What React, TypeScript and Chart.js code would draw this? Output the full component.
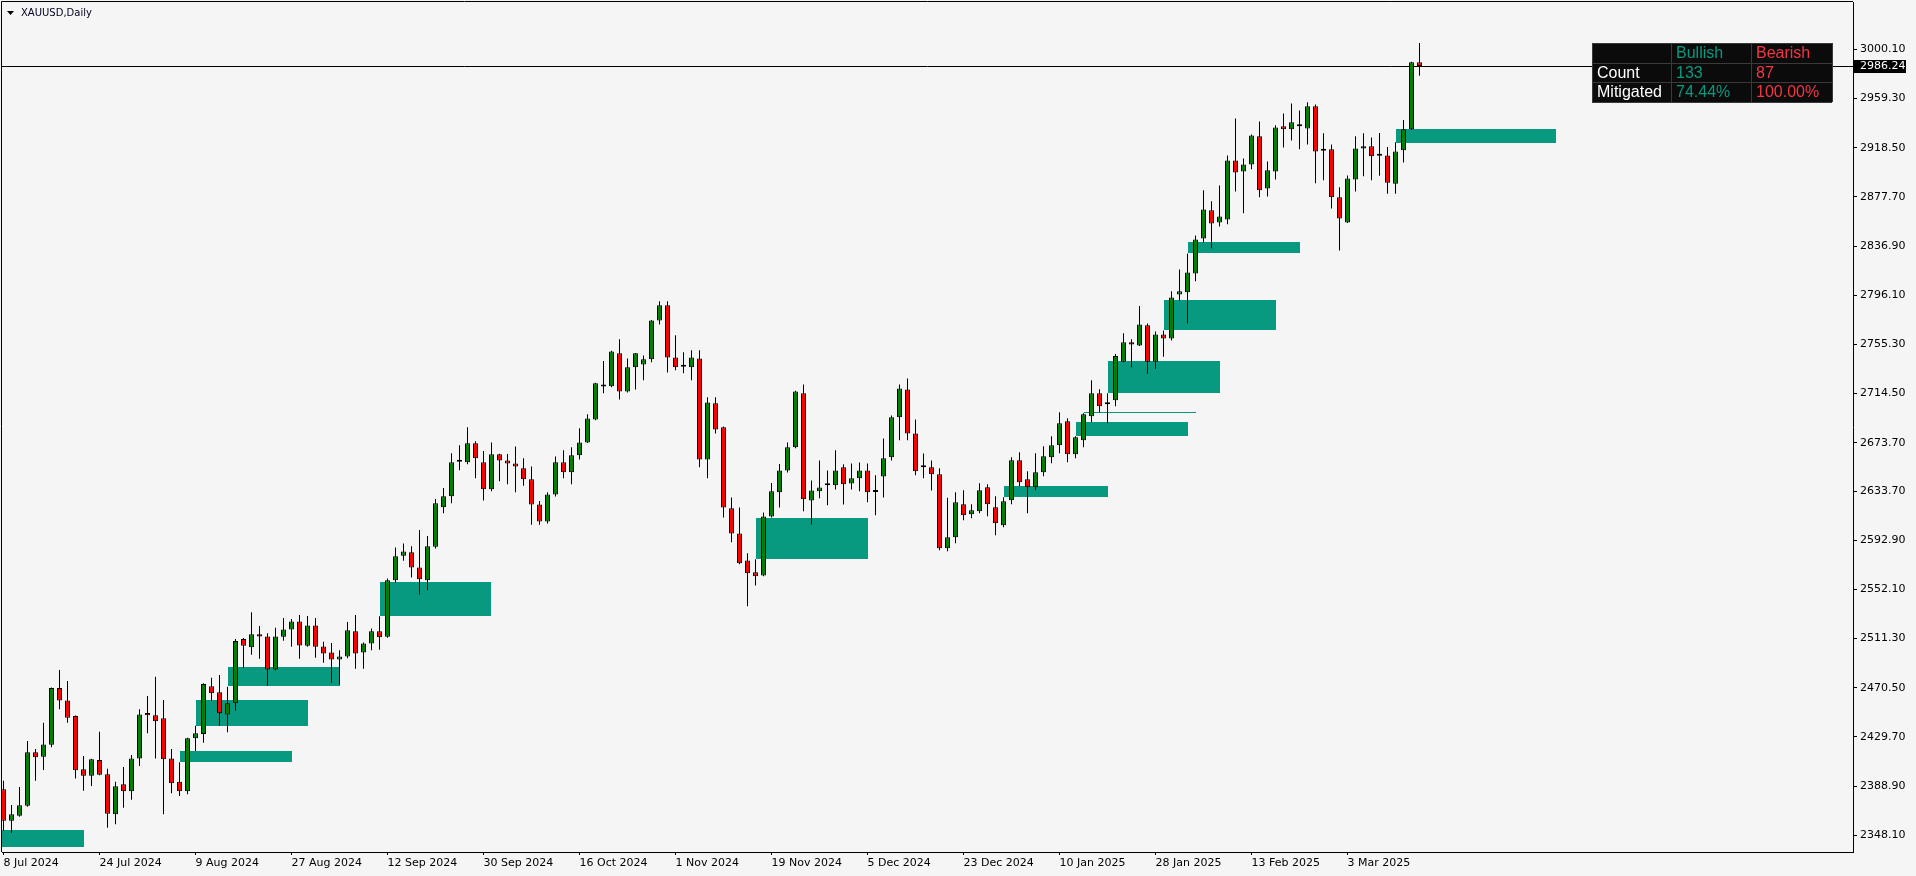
import React, { useEffect, useRef } from 'react';
import { Chart, registerables } from 'chart.js';

Chart.register(...registerables);

// ---- Data (XAUUSD daily, 8 Jul 2024 .. 14 Mar 2025; index = bar number) ----
const opens = [
  2386.2, 2360.2, 2364.4, 2372.7, 2416.9, 2413.3, 2423.3, 2470.3, 2460.0, 2447.0,
  2402.8, 2397.5, 2410.5, 2398.7, 2365.5, 2390.4, 2384.6, 2411.9, 2449.5, 2447.6,
  2445.1, 2411.9, 2392.6, 2384.6, 2428.5, 2432.1, 2471.7, 2466.7, 2448.4, 2457.6,
  2510.9, 2504.0, 2514.8, 2513.1, 2485.7, 2512.8, 2518.9, 2525.5, 2505.4, 2522.2,
  2504.8, 2499.8, 2494.0, 2496.5, 2517.3, 2499.8, 2507.3, 2517.3, 2512.8, 2559.6,
  2580.0, 2582.8, 2570.3, 2559.6, 2587.5, 2620.2, 2629.3, 2658.0, 2657.5, 2673.3,
  2657.5, 2635.1, 2664.1, 2659.1, 2656.6, 2652.5, 2643.4, 2622.6, 2608.5, 2630.9,
  2657.5, 2649.2, 2663.3, 2674.0, 2693.1, 2720.3, 2720.5, 2747.9, 2716.3, 2736.3,
  2738.7, 2742.9, 2775.2, 2787.7, 2744.5, 2736.8, 2736.3, 2743.7, 2659.9, 2706.4,
  2686.5, 2619.3, 2598.5, 2576.1, 2566.2, 2563.7, 2612.6, 2632.6, 2650.8, 2669.9,
  2714.7, 2625.9, 2633.4, 2638.4, 2638.4, 2653.3, 2640.0, 2644.2, 2650.8, 2632.9,
  2645.8, 2661.6, 2694.8, 2718.0, 2681.5, 2653.3, 2653.3, 2647.6, 2586.2, 2595.3,
  2622.7, 2614.4, 2616.9, 2636.8, 2620.2, 2605.3, 2626.0, 2659.2, 2643.4, 2636.8,
  2649.2, 2661.7, 2671.6, 2691.5, 2664.2, 2675.8, 2695.7, 2714.8, 2705.6, 2708.9,
  2741.0, 2757.0, 2754.5, 2771.1, 2741.0, 2763.6, 2760.3, 2796.8, 2798.5, 2814.2,
  2843.2, 2866.5, 2856.5, 2859.0, 2907.9, 2898.8, 2904.6, 2927.9, 2884.7, 2898.8,
  2936.2, 2933.7, 2937.8, 2934.5, 2952.8, 2916.0, 2917.1, 2877.3, 2856.5, 2892.2,
  2917.9, 2919.6, 2911.9, 2912.1, 2888.6, 2916.3, 2933.7, 2989.3,
];
const highs = [
  2393.4, 2373.2, 2388.2, 2426.3, 2419.7, 2441.5, 2470.8, 2485.2, 2476.1, 2447.5,
  2413.9, 2411.6, 2434.0, 2403.4, 2392.6, 2404.7, 2414.7, 2452.6, 2463.6, 2479.7,
  2460.3, 2419.7, 2408.6, 2429.0, 2439.0, 2474.2, 2478.8, 2481.1, 2471.4, 2510.9,
  2511.8, 2533.2, 2521.7, 2515.6, 2520.3, 2528.3, 2527.5, 2530.8, 2530.0, 2528.3,
  2508.7, 2507.6, 2501.5, 2525.0, 2530.8, 2508.0, 2519.7, 2529.7, 2561.2, 2586.9,
  2590.2, 2587.8, 2601.3, 2596.3, 2627.1, 2636.2, 2665.0, 2671.6, 2686.5, 2674.9,
  2666.9, 2674.0, 2664.5, 2664.4, 2670.7, 2660.8, 2654.1, 2625.4, 2632.6, 2662.4,
  2667.4, 2669.9, 2685.7, 2697.3, 2723.5, 2741.5, 2750.0, 2759.5, 2743.7, 2748.2,
  2746.2, 2775.6, 2791.0, 2791.0, 2762.8, 2748.7, 2750.4, 2750.4, 2711.4, 2711.4,
  2687.3, 2628.4, 2620.1, 2582.0, 2577.0, 2615.9, 2640.3, 2656.1, 2674.0, 2716.8,
  2722.1, 2642.5, 2659.1, 2650.8, 2667.4, 2655.8, 2656.6, 2657.4, 2656.6, 2646.7,
  2677.3, 2696.4, 2722.1, 2727.1, 2693.1, 2664.9, 2659.1, 2652.5, 2628.2, 2632.6,
  2634.3, 2622.7, 2640.1, 2639.3, 2629.3, 2628.5, 2661.7, 2665.8, 2650.1, 2665.0,
  2670.8, 2679.1, 2699.0, 2694.0, 2679.1, 2698.2, 2725.5, 2718.1, 2714.8, 2747.3,
  2764.5, 2759.5, 2787.1, 2772.7, 2766.1, 2766.9, 2799.3, 2817.5, 2830.8, 2845.7,
  2883.1, 2874.0, 2887.2, 2912.1, 2942.8, 2909.6, 2929.5, 2940.3, 2907.1, 2937.0,
  2946.9, 2955.2, 2949.4, 2956.1, 2954.4, 2930.4, 2921.2, 2885.6, 2895.5, 2927.9,
  2930.4, 2927.0, 2930.7, 2919.0, 2922.9, 2941.4, 2989.8, 3005.3,
];
const lows = [
  2351.9, 2350.3, 2363.5, 2371.8, 2393.4, 2402.3, 2421.1, 2452.6, 2441.5, 2395.3,
  2385.1, 2389.0, 2397.9, 2354.4, 2357.2, 2371.0, 2377.6, 2405.6, 2432.7, 2411.7,
  2365.5, 2382.9, 2380.7, 2382.1, 2418.0, 2424.9, 2459.8, 2439.0, 2433.5, 2451.5,
  2486.9, 2497.9, 2494.6, 2472.2, 2485.0, 2509.5, 2504.5, 2494.6, 2504.5, 2495.4,
  2491.3, 2474.7, 2473.0, 2494.9, 2486.3, 2486.3, 2501.5, 2502.0, 2512.0, 2557.9,
  2575.9, 2562.0, 2547.9, 2551.3, 2585.9, 2615.2, 2623.5, 2650.9, 2655.8, 2644.2,
  2625.9, 2633.4, 2641.7, 2639.2, 2632.6, 2638.1, 2605.7, 2605.7, 2606.8, 2629.2,
  2644.2, 2639.2, 2659.9, 2673.5, 2692.3, 2714.7, 2719.7, 2709.7, 2715.5, 2718.0,
  2725.5, 2740.4, 2771.9, 2732.1, 2733.8, 2731.3, 2725.5, 2653.3, 2644.2, 2681.5,
  2611.8, 2591.1, 2573.0, 2538.0, 2555.4, 2562.9, 2611.8, 2620.1, 2649.1, 2669.1,
  2616.8, 2606.0, 2627.6, 2621.8, 2635.0, 2622.6, 2635.0, 2633.4, 2624.3, 2613.5,
  2628.4, 2659.1, 2675.7, 2675.7, 2646.7, 2644.2, 2634.2, 2584.5, 2583.7, 2590.3,
  2609.4, 2611.1, 2615.2, 2612.7, 2597.0, 2603.6, 2622.7, 2637.6, 2615.2, 2634.3,
  2645.9, 2656.7, 2665.0, 2657.5, 2660.8, 2670.0, 2690.7, 2699.0, 2689.9, 2704.0,
  2740.5, 2736.3, 2754.0, 2731.0, 2735.1, 2745.1, 2758.6, 2791.8, 2772.7, 2807.6,
  2839.9, 2835.0, 2853.2, 2854.9, 2882.2, 2864.0, 2900.5, 2877.3, 2878.1, 2892.2,
  2918.7, 2924.5, 2917.1, 2921.2, 2888.9, 2891.4, 2868.1, 2833.3, 2856.0, 2882.2,
  2894.7, 2891.4, 2895.3, 2880.3, 2880.3, 2906.1, 2933.2, 2978.2,
];
const closes = [
  2360.2, 2365.5, 2373.0, 2416.9, 2412.8, 2423.5, 2470.3, 2460.0, 2445.7, 2402.0,
  2397.5, 2411.1, 2398.4, 2366.0, 2388.7, 2384.6, 2411.9, 2448.4, 2447.6, 2442.6,
  2411.1, 2391.2, 2384.6, 2428.5, 2432.7, 2473.6, 2465.9, 2449.3, 2457.6, 2509.3,
  2505.4, 2514.8, 2513.1, 2485.7, 2513.1, 2518.9, 2525.5, 2505.6, 2522.2, 2504.5,
  2499.0, 2494.0, 2496.5, 2518.1, 2499.0, 2507.3, 2517.3, 2512.3, 2559.6, 2579.5,
  2583.6, 2570.3, 2560.4, 2587.8, 2623.5, 2629.3, 2657.5, 2658.0, 2673.3, 2660.8,
  2635.1, 2664.1, 2659.1, 2656.6, 2654.1, 2643.4, 2622.6, 2608.5, 2630.9, 2657.5,
  2649.2, 2663.3, 2674.0, 2693.9, 2723.0, 2720.3, 2749.5, 2716.3, 2736.3, 2747.9,
  2742.9, 2775.2, 2787.7, 2744.5, 2736.3, 2736.8, 2744.5, 2659.9, 2707.2, 2684.8,
  2620.1, 2598.5, 2573.7, 2565.4, 2562.9, 2612.6, 2633.4, 2650.8, 2669.9, 2716.3,
  2626.8, 2634.2, 2636.7, 2638.4, 2650.8, 2639.2, 2644.2, 2650.8, 2632.6, 2632.9,
  2660.8, 2694.8, 2718.8, 2681.5, 2650.0, 2653.3, 2647.5, 2586.2, 2595.3, 2624.3,
  2613.6, 2617.7, 2634.3, 2622.7, 2606.9, 2625.2, 2659.2, 2640.9, 2636.8, 2649.2,
  2662.5, 2671.6, 2689.9, 2664.2, 2678.3, 2697.3, 2714.8, 2704.0, 2707.3, 2745.7,
  2757.0, 2755.3, 2771.9, 2741.0, 2763.6, 2760.3, 2794.3, 2799.3, 2815.0, 2842.4,
  2867.3, 2855.7, 2861.5, 2907.9, 2898.0, 2904.6, 2928.7, 2883.1, 2899.7, 2935.3,
  2933.7, 2939.5, 2936.2, 2952.8, 2915.4, 2916.0, 2877.3, 2859.8, 2893.0, 2917.9,
  2919.6, 2911.3, 2911.9, 2889.5, 2915.4, 2933.7, 2989.3, 2986.24,
];

// x-axis labels (bar index of each label)
const xTickIndex = [0, 12, 24, 36, 48, 60, 72, 84, 96, 108, 120, 132, 144, 156, 168];
const xTickLabels = [
  '8 Jul 2024', '24 Jul 2024', '9 Aug 2024', '27 Aug 2024', '12 Sep 2024',
  '30 Sep 2024', '16 Oct 2024', '1 Nov 2024', '19 Nov 2024', '5 Dec 2024',
  '23 Dec 2024', '10 Jan 2025', '28 Jan 2025', '13 Feb 2025', '3 Mar 2025',
];
// price-axis labels
const yTickValues = [
  3000.10, 2959.30, 2918.50, 2877.70, 2836.90, 2796.10, 2755.30, 2714.50,
  2673.70, 2633.70, 2592.90, 2552.10, 2511.30, 2470.50, 2429.70, 2388.90, 2348.10,
];

// order-block zones (bar index span, price range)
const obStart = [-4, 22, 24, 28, 47, 94, 125, 134, 138, 145, 148, 174];
const obEnd = [10, 36, 38, 42, 61, 108, 138, 148, 152, 159, 162, 194];
const obTop = [2352.5, 2418.0, 2460.3, 2487.7, 2558.2, 2611.3, 2637.8, 2690.9, 2741.5, 2792.1, 2840.3, 2934.0];
const obBottom = [2338.6, 2409.1, 2439.0, 2472.2, 2530.3, 2577.5, 2629.0, 2679.6, 2715.2, 2767.5, 2831.4, 2922.6];
// thin level line
const levelStart = [135];
const levelEnd = [149];
const levelPrice = [2699.0];

const currentPrice = 2986.24;
const chartTitle = 'XAUUSD,Daily';

// statistics table
const tableHeader = ['', 'Bullish', 'Bearish'];
const tableCount = ['Count', '133', '87'];
const tableMitigated = ['Mitigated', '74.44%', '100.00%'];

// ---- styling ----
const BG = '#f5f5f5';
const UP = '#008000';
const DOWN = '#ff0000';
const OB = '#089981';
const TV_RED = '#f23645';
const AXIS_FONT = 'DejaVu Sans';

const X_MIN = -0.1875;
const X_MAX = 231.1875;
const Y_MIN = 2334.24;
const Y_MAX = 3039.34;

export default function App() {
  const ref = useRef<HTMLCanvasElement | null>(null);

  useEffect(() => {
    const canvas = ref.current;
    if (!canvas) return;
    const idx = opens.map((_, i) => i);
    const bodyColors = idx.map((i) =>
      closes[i] > opens[i] ? UP : closes[i] < opens[i] ? DOWN : '#000000'
    );

    const bgPlugin = {
      id: 'bg',
      beforeDraw(chart: any) {
        const { ctx, width, height } = chart;
        ctx.save();
        ctx.fillStyle = BG;
        ctx.fillRect(0, 0, width, height);
        ctx.restore();
      },
    };

    const zonesPlugin = {
      id: 'zones',
      beforeDatasetsDraw(chart: any) {
        const { ctx, chartArea, scales } = chart;
        const xs = scales.x;
        const ys = scales.y;
        ctx.save();
        ctx.beginPath();
        ctx.rect(chartArea.left, chartArea.top, chartArea.right - chartArea.left, chartArea.bottom - chartArea.top);
        ctx.clip();
        ctx.fillStyle = OB;
        for (let k = 0; k < obStart.length; k++) {
          const x1 = Math.round(xs.getPixelForValue(obStart[k]));
          const x2 = Math.round(xs.getPixelForValue(obEnd[k]));
          const y1 = Math.round(ys.getPixelForValue(obTop[k]));
          const y2 = Math.round(ys.getPixelForValue(obBottom[k]));
          ctx.fillRect(x1, y1, x2 - x1, y2 - y1);
        }
        ctx.strokeStyle = OB;
        ctx.lineWidth = 1;
        for (let k = 0; k < levelStart.length; k++) {
          const x1 = Math.round(xs.getPixelForValue(levelStart[k]));
          const x2 = Math.round(xs.getPixelForValue(levelEnd[k]));
          const y = Math.round(ys.getPixelForValue(levelPrice[k])) + 0.5;
          ctx.beginPath();
          ctx.moveTo(x1, y);
          ctx.lineTo(x2, y);
          ctx.stroke();
        }
        // current price line
        const py = Math.round(ys.getPixelForValue(currentPrice)) + 0.5;
        ctx.strokeStyle = '#000';
        ctx.beginPath();
        ctx.moveTo(chartArea.left, py);
        ctx.lineTo(chartArea.right, py);
        ctx.stroke();
        ctx.restore();
      },
    };

    const overlayPlugin = {
      id: 'overlay',
      afterDraw(chart: any) {
        const { ctx, chartArea, scales } = chart;
        const ys = scales.y;
        ctx.save();
        // frame (left + top)
        ctx.strokeStyle = '#000';
        ctx.lineWidth = 1;
        ctx.beginPath();
        ctx.moveTo(chartArea.left - 0.5, chartArea.bottom);
        ctx.lineTo(chartArea.left - 0.5, chartArea.top - 0.5);
        ctx.lineTo(chartArea.right, chartArea.top - 0.5);
        ctx.stroke();

        // current price tag on the axis
        const py = Math.round(ys.getPixelForValue(currentPrice));
        ctx.fillStyle = '#000';
        ctx.fillRect(chartArea.right + 1, py - 6, 52, 13);
        ctx.fillStyle = '#fff';
        ctx.font = `11px "${AXIS_FONT}"`;
        ctx.textBaseline = 'middle';
        ctx.textAlign = 'left';
        ctx.fillText(currentPrice.toFixed(2), chartArea.right + 7, py + 0.5);

        // title
        ctx.fillStyle = '#000';
        ctx.beginPath();
        ctx.moveTo(7, 11);
        ctx.lineTo(14, 11);
        ctx.lineTo(10.5, 15);
        ctx.closePath();
        ctx.fill();
        ctx.font = `10px "${AXIS_FONT}"`;
        ctx.textBaseline = 'alphabetic';
        ctx.fillStyle = '#000020';
        ctx.fillText(chartTitle, 21, 16);

        // statistics table
        const colX = [1592, 1671, 1751, 1832];
        const rowY = [43, 63, 82, 102];
        ctx.fillStyle = '#0b0b0b';
        ctx.fillRect(colX[0], rowY[0], colX[3] - colX[0], rowY[3] - rowY[0]);
        ctx.strokeStyle = '#3a3a3a';
        ctx.lineWidth = 1;
        for (const x of colX) {
          ctx.beginPath();
          ctx.moveTo(x + 0.5, rowY[0]);
          ctx.lineTo(x + 0.5, rowY[3]);
          ctx.stroke();
        }
        for (const y of rowY) {
          ctx.beginPath();
          ctx.moveTo(colX[0], y + 0.5);
          ctx.lineTo(colX[3], y + 0.5);
          ctx.stroke();
        }
        const rows = [tableHeader, tableCount, tableMitigated];
        const colColors = ['#ffffff', OB, TV_RED];
        ctx.font = '16px "Liberation Sans", Arial, sans-serif';
        ctx.textBaseline = 'middle';
        rows.forEach((row, r) => {
          row.forEach((txt, c) => {
            if (!txt) return;
            ctx.fillStyle = colColors[c];
            ctx.fillText(txt, colX[c] + 5, (rowY[r] + rowY[r + 1]) / 2 + 1);
          });
        });
        ctx.restore();
      },
    };

    const chart = new Chart(canvas, {
      type: 'bar',
      data: {
        datasets: [
          {
            label: 'body',
            data: idx.map((i) => ({ x: i, y: [opens[i], closes[i]] })),
            backgroundColor: bodyColors,
            borderColor: '#000000',
            borderWidth: 1,
            borderSkipped: false,
            barThickness: 5,
            minBarLength: 2,
            grouped: false,
            inflateAmount: 0,
            order: 0,
          } as any,
          {
            label: 'wick',
            data: idx.map((i) => ({ x: i, y: [lows[i], highs[i]] })),
            backgroundColor: '#000000',
            borderWidth: 0,
            barThickness: 1,
            minBarLength: 1,
            grouped: false,
            inflateAmount: 0,
            order: 1,
          } as any,
        ],
      },
      options: {
        animation: false,
        responsive: true,
        maintainAspectRatio: false,
        layout: { padding: { left: 2, top: 2, right: 0, bottom: 0 } },
        plugins: {
          legend: { display: false },
          tooltip: { enabled: false },
          title: { display: false },
        },
        scales: {
          x: {
            type: 'linear',
            min: X_MIN,
            max: X_MAX,
            offset: false,
            bounds: 'data',
            afterBuildTicks: (scale: any) => {
              scale.ticks = xTickIndex.map((v) => ({ value: v }));
            },
            afterFit: (scale: any) => {
              scale.height = 24;
              scale.paddingLeft = 0;
              scale.paddingRight = 0;
            },
            ticks: {
              autoSkip: false,
              maxRotation: 0,
              minRotation: 0,
              align: 'start',
              padding: 2,
              color: '#000',
              font: { family: AXIS_FONT, size: 11 },
              callback: (value: any) => {
                const k = xTickIndex.indexOf(Number(value));
                return k >= 0 ? xTickLabels[k] : '';
              },
            },
            grid: { drawOnChartArea: false, drawTicks: true, tickLength: 3, color: '#000', offset: false },
            border: { display: true, color: '#000', width: 1 },
          },
          y: {
            type: 'linear',
            position: 'right',
            min: Y_MIN,
            max: Y_MAX,
            beginAtZero: false,
            bounds: 'data',
            afterBuildTicks: (scale: any) => {
              scale.ticks = yTickValues.map((v) => ({ value: v }));
            },
            afterFit: (scale: any) => {
              scale.width = 63;
              scale.paddingTop = 0;
              scale.paddingBottom = 0;
            },
            ticks: {
              autoSkip: false,
              padding: 3,
              color: '#000',
              font: { family: AXIS_FONT, size: 11 },
              callback: (value: any) => Number(value).toFixed(2),
            },
            grid: { drawOnChartArea: false, drawTicks: true, tickLength: 4, color: '#000' },
            border: { display: true, color: '#000', width: 1 },
          },
        },
      } as any,
      plugins: [bgPlugin, zonesPlugin, overlayPlugin],
    });

    return () => {
      chart.destroy();
    };
  }, []);

  return (
    <div style={{ position: 'absolute', left: 0, top: 0, width: '1916px', height: '876px', background: BG }}>
      <canvas ref={ref} />
    </div>
  );
}
